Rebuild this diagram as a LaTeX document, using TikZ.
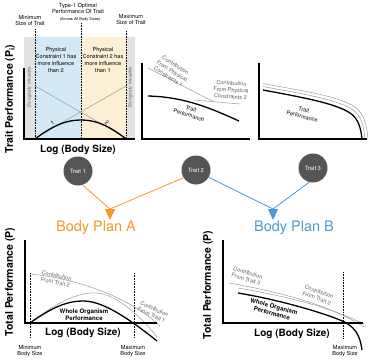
\documentclass[tikz,border=0pt]{standalone}
\usepackage{fontspec}
\setmainfont{TeX Gyre Heros}
\usetikzlibrary{arrows.meta}
\definecolor{planA}{HTML}{F39A2D}
\definecolor{planB}{HTML}{4A9AD8}
\definecolor{zoneblue}{HTML}{D3E9F8}
\definecolor{zoneyellow}{HTML}{FCEFD3}
\definecolor{zonegray}{HTML}{E2E2E2}
\definecolor{traitgray}{HTML}{555555}
\definecolor{contrib}{HTML}{9A9A9A}
\definecolor{contribtext}{HTML}{606060}

\begin{document}
\begin{tikzpicture}[x=1pt,y=-1pt,
    axisline/.style={line width=1.3pt},
    perf/.style={line width=1.3pt},
    contr/.style={contrib,line width=0.5pt},
    guide/.style={densely dotted,line width=0.6pt},
    smalltext/.style={font=\fontsize{5.6}{6.8}\selectfont,align=center,inner sep=0pt},
    tinytext/.style={font=\fontsize{3.9}{4.6}\selectfont,align=center,inner sep=0pt},
    boldtext/.style={font=\fontsize{6.1}{7.4}\selectfont\bfseries,align=center,inner sep=0pt},
    axlabel/.style={font=\fontsize{10}{12}\selectfont\bfseries,inner sep=0pt},
    ylabel/.style={font=\fontsize{10.5}{12}\selectfont\bfseries,inner sep=0pt,rotate=90},
    trait/.style={circle,fill=traitgray,text=white,minimum size=29pt,inner sep=0pt,font=\fontsize{5.8}{6}\selectfont},
    plan/.style={font=\fontsize{14.5}{16}\selectfont,inner sep=0pt},
    link/.style={line width=0.8pt},
    head/.style={-{Triangle[length=11pt,width=10pt]},line width=0.8pt}]
    \useasboundingbox (0,0) rectangle (370,361);

    % top left panel
    \fill[zonegray] (24,37) rectangle (35,139);
    \fill[zoneblue] (35,37) rectangle (81,139);
    \fill[zoneyellow] (81,37) rectangle (126,139);
    \fill[zonegray] (126,37) rectangle (135,139);
    \draw[guide] (35,29) -- (35,139);
    \draw[guide] (81,23) -- (81,139);
    \draw[guide] (126,31) -- (126,139);
    \node[smalltext] (minT) at (30,20.5) {Minimum\\Size of Trait};
    \node[smalltext] (maxT) at (131,19.5) {Maximum\\Size of Trait};
    \node[smalltext] (optT) at (78,8.5) {Type-1 Optimal\\Performance Of Trait};
    \node[tinytext] (optS) at (80,19) {(Across All Body Sizes)};
    \node[smalltext] (pc1) at (56,60) {Physical\\Constraint 1 has\\more influence\\than 2};
    \node[smalltext] (pc2) at (103,60) {Physical\\Constraint 2 has\\more influence\\than 1};
    \foreach \x/\n in {29.5/bl, 130.5/br}
        \node[tinytext,font=\fontsize{4.2}{5}\selectfont\itshape,text=contribtext,rotate=90] (inf\n) at (\x,87) {Biologically Infeasible};
    \draw[contr] (35,86) -- (126,138);
    \draw[contr] (35,138) -- (126,86);
    \draw[perf] (35,139) .. controls (55,124) and (68,120) .. (81,120) .. controls (94,120) and (107,124) .. (126,139);
    \node[smalltext,rotate=35] (c1) at (52.5,123) {1};
    \node[smalltext,rotate=-35] (c2) at (107,123) {2};
    \draw[axisline] (24,68) -- (24,139) -- (135,139);
    \node[axlabel] (xlA) at (78,150) {Log (Body Size)};
    \node[ylabel] (ylA) at (10,99) {Trait Performance (P\textsubscript{i})};

    % top middle panel
    \draw[contr] (148,68) -- (214,102);
    \draw[contr] (194,100) -- (240,104);
    \draw[perf] (148,96) .. controls (185,97) and (210,108) .. (239,121);
    \node[smalltext,rotate=-32,text=contribtext] (pcl1) at (172,71) {Contribution\\From Physical\\Constraints 1};
    \node[smalltext,rotate=-4,text=contribtext] (pcl2) at (231,90) {Contribution\\From Physical\\Constraints 2};
    \node[smalltext,rotate=-17] (tpB) at (190,112) {Trait\\Performance};
    \draw[axisline] (142,63) -- (142,139) -- (250,139);

    % top right panel
    \draw[contr] (263,83.5) .. controls (300,90.5) and (339,96) .. (355,107) .. controls (365,114) and (367,128) .. (368,139);
    \draw[contr] (263,86.5) .. controls (300,93.5) and (337,99) .. (353,110) .. controls (362,116) and (364,128) .. (365,139);
    \draw[perf] (263,90) .. controls (300,97) and (335,103) .. (350,113) .. controls (358,118) and (361,128) .. (362,139);
    \node[smalltext,rotate=-15] (tpC) at (303,113) {Trait\\Performance};
    \draw[axisline] (259,63) -- (259,139) -- (367,139);

    % traits and body plans
    \node[trait] (t1) at (78,171) {Trait 1};
    \node[trait] (t2) at (196,170) {Trait 2};
    \node[trait] (t3) at (313,168) {Trait 3};
    \coordinate (jA) at (110,209);
    \coordinate (tipA) at (110,220);
    \coordinate (jB) at (273,209);
    \coordinate (tipB) at (273,220);
    \draw[link,planA] (t1.-72) -- (jA);
    \draw[link,planA] (t2.-148) -- (jA);
    \draw[link,planB] (t2.-30) -- (jB);
    \draw[link,planB] (t3.-105) -- (jB);
    \draw[head,planA] (jA) -- (tipA);
    \draw[head,planB] (jB) -- (tipB);
    \node[plan,text=planA] (bpA) at (96,228) {Body Plan A};
    \node[plan,text=planB] (bpB) at (294,228) {Body Plan B};

    % bottom left panel
    \draw[guide] (30,273) -- (30,338);
    \draw[guide] (134,273) -- (134,338);
    \draw[contr] (30,274) .. controls (80,279) and (130,298) .. (160,326);
    \draw[contr] (30,323) .. controls (60,300) and (80,292) .. (97,293) .. controls (115,294) and (140,315) .. (157,337);
    \draw[perf] (30,323) .. controls (55,305) and (70,301) .. (83,301) .. controls (100,301) and (122,313) .. (157,341);
    \draw[axisline] (25,240) -- (25,323) -- (157,323);
    \node[smalltext,rotate=-12,text=contribtext] (ctA2) at (56,279) {Contribution\\From Trait 2};
    \node[smalltext,rotate=-25,text=contribtext] (ctA1) at (153,312) {Contribution\\From Trait 1};
    \node[boldtext] (woA) at (84,315) {Whole Organism\\Performance};
    \node[smalltext] (minB) at (30,351) {Minimum\\Body Size};
    \node[smalltext] (maxB) at (133,351) {Maximum\\Body Size};
    \node[axlabel] (xlD) at (83,333) {Log (Body Size)};
    \node[ylabel] (ylD) at (10,282) {Total Performance (P)};

    % bottom right panel
    \draw[guide] (343,272) -- (343,338);
    \draw[contr] (229,283) .. controls (280,292) and (330,305) .. (364,327);
    \draw[contr] (238,288) .. controls (285,296) and (330,307) .. (364,324);
    \draw[perf] (238,293) .. controls (280,300) and (320,312) .. (340,320) .. controls (355,326) and (360,335) .. (362,350);
    \draw[axisline] (223,240) -- (223,323) -- (363,323);
    \node[smalltext,rotate=-17,text=contribtext] (ctE3) at (247,276) {Contribution\\From Trait 3};
    \node[smalltext,rotate=-20,text=contribtext] (ctE2) at (318,295) {Contribution\\From Trait 2};
    \node[boldtext,rotate=-15] (woE) at (273,310) {Whole Organism\\Performance};
    \node[smalltext] (maxE) at (345,351) {Maximum\\Body Size};
    \node[axlabel] (xlE) at (292,334) {Log (Body Size)};
    \node[ylabel] (ylE) at (208,285) {Total Performance (P)};
\end{tikzpicture}
\end{document}
